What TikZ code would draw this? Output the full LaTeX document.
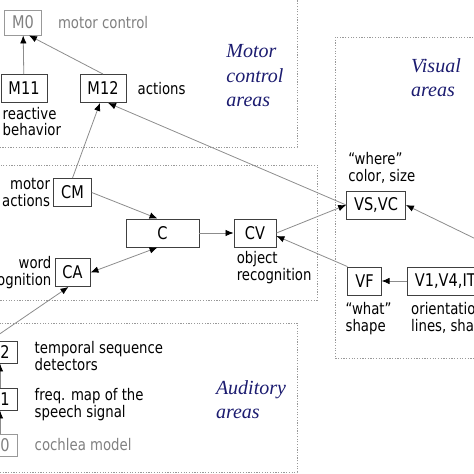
\documentclass[tikz,border=0pt]{standalone}
\usepackage{fontspec}
\setmainfont[FakeStretch=0.83]{DejaVu Sans}
\newfontfamily\areafont{Liberation Serif}
\usetikzlibrary{arrows.meta, positioning}
\definecolor{areablue}{RGB}{28,28,112}

\begin{document}
\begin{tikzpicture}[x=1pt, y=-1pt,
  mapbox/.style={draw=black!75, line width=0.9pt, inner xsep=7.5pt, inner ysep=0pt,
    minimum height=28pt, font=\fontsize{17.5}{20}\selectfont},
  audbox/.style={mapbox, minimum height=22pt, minimum width=34pt},
  faded/.style={draw=black!40, text=black!50},
  note/.style={inner sep=1pt, align=left, font=\fontsize{16}{16.5}\selectfont},
  areaname/.style={align=left, text=areablue, font=\areafont\itshape\fontsize{20}{24.5}\selectfont},
  region/.style={draw=black!40, line width=0.7pt, dash pattern=on 1.2pt off 1.5pt},
  wire/.style={draw=black!45, line width=0.8pt},
  >={Latex[color=black, length=8pt, width=6.5pt]}]

\useasboundingbox (0,0) rectangle (474,474);
\clip (0,0) rectangle (474,474);

\draw[region] (-5,-5) rectangle (297,147);
\draw[region] (-5,165) rectangle (317,300);
\draw[region] (-5,323) rectangle (297,472);
\draw[region] (335,37) rectangle (480,358);

\node[mapbox, faded, minimum height=25pt] (M0) at (23,22.5) {M0};
\node[mapbox] (M11) at (24,88.5) {M11};
\node[mapbox] (M12) at (103,88.5) {M12};
\node[mapbox] (CM) at (72.5,192.5) {CM};
\node[mapbox, minimum width=73pt] (C) at (162.5,233) {C};
\node[mapbox, minimum width=42pt] (CV) at (255,233) {CV};
\node[mapbox] (CA) at (72.5,272.5) {CA};
\node[mapbox] (VSVC) at (376,205) {VS,VC};
\node[mapbox] (VF) at (364.5,281) {VF};
\node[mapbox, anchor=west] (V1V4IT) at (407,281) {V1,V4,IT};
\node[audbox] (A2) at (0,352) {A2};
\node[audbox] (A1) at (0,399) {A1};
\node[audbox, faded] (A0) at (0,445) {A0};
\coordinate (Vin) at (480,241);

\node[note, text=black!50, right=15pt of M0] (M0note) {motor control};
\node[note, right=10pt of M12] (M12note) {actions};
\node[note, below=3pt of M11.south west, anchor=north west, xshift=1pt] (M11note) {reactive\\behavior};
\node[note, align=right, left=2pt of CM] (CMnote) {motor\\actions};
\node[note, align=right, left=2pt of CA] (CAnote) {word\\recognition};
\node[note, below=3pt of CV.south west, anchor=north west, xshift=2pt] (CVnote) {object\\recognition};
\node[note, above=6pt of VSVC.north west, anchor=south west, xshift=1pt] (VSVCnote) {“where”\\color, size};
\node[note, below=6pt of VF.south west, anchor=north west, xshift=-3pt] (VFnote) {“what”\\shape};
\node[note, below=6pt of V1V4IT.south west, anchor=north west, xshift=3pt] (V1note) {orientation\\lines, shapes};
\node[note, right=16pt of A2.north east, anchor=north west] (A2note) {temporal sequence\\detectors};
\node[note, right=16pt of A1.north east, anchor=north west] (A1note) {freq. map of the\\speech signal};
\node[note, text=black!50, right=16pt of A0] (A0note) {cochlea model};

\node[areaname] (motorname) at (255,76) {Motor\\control\\areas};
\node[areaname] (visualname) at (436,77.5) {Visual\\areas};
\node[areaname] (auditoryname) at (251,399.5) {Auditory\\areas};

\draw[wire, ->]
(M11) edge (M0)
(M12.north) edge ([xshift=6pt]M0.south)
(CM.north) edge ([xshift=-3pt]M12.south)
(VSVC.west) edge ([xshift=5pt]M12.south)
(CM.east) edge ([xshift=-5pt]C.north)
([xshift=-5pt]C.south) edge[<->] (CA.east)
(C) edge (CV)
(CV.east) edge (VSVC.west)
(VF.north west) edge ([yshift=-3pt]CV.east)
(V1V4IT) edge (VF)
(Vin) edge (VSVC.east)
([xshift=-10pt]A2.north) edge ([xshift=-4pt]CA.south)
(A1) edge (A2)
(A0) edge (A1);

\end{tikzpicture}
\end{document}
